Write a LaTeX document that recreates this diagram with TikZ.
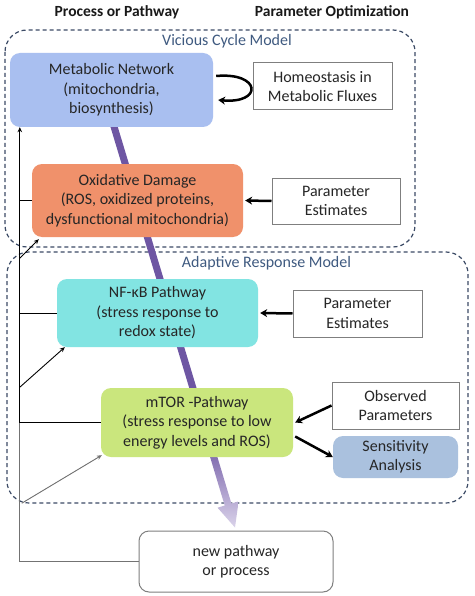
\documentclass[tikz,border=0pt]{standalone}
\usepackage{fontspec}
\setmainfont{Carlito}
\usetikzlibrary{arrows.meta,calc,backgrounds}
\definecolor{dashc}{HTML}{3C4B66}
\definecolor{titlec}{HTML}{3F5A80}
\definecolor{metc}{HTML}{A9BFF0}
\definecolor{oxc}{HTML}{F0916B}
\definecolor{nfc}{HTML}{82E4E2}
\definecolor{mtorc}{HTML}{CAE67D}
\definecolor{sensc}{HTML}{AAC1DE}
\definecolor{boxline}{HTML}{7F7F7F}
\definecolor{arrp}{HTML}{6E56A3}
\definecolor{arrl}{HTML}{DAD3EA}
\definecolor{txt}{HTML}{262626}
\pgfdeclareverticalshading{purplefade}{100bp}{color(0bp)=(arrl); color(25bp)=(arrl); color(36bp)=(arrp); color(100bp)=(arrp)}
\begin{document}
\begin{tikzpicture}[x=1pt,y=-1pt,
  every node/.style={font=\fontsize{16}{19.5}\selectfont, text=txt, align=center, inner sep=0pt},
  procbox/.style={rounded corners=10pt},
  parbox/.style={draw=boxline, line width=1pt, fill=white},
  dashbox/.style={draw=dashc, line width=1.2pt, dash pattern=on 4pt off 3pt, rounded corners=22pt},
  title/.style={text=titlec},
  header/.style={font=\bfseries\fontsize{15.5}{19}\selectfont, text=black!90},
  thickarr/.style={line width=2.5pt, -{Stealth[length=7pt,width=8pt]}},
  thinarr/.style={line width=0.9pt, -{Stealth[length=5pt,width=4.5pt]}},
  thinline/.style={line width=0.9pt}
]
\useasboundingbox (0,0) rectangle (474,596);

% headers
\node[header] (h1) at (117,12) {Process or Pathway};
\node[header] (h2) at (332,12) {Parameter Optimization};

% titles
\node[title] (vt) at (227,41) {Vicious Cycle Model};
\node[title] (at) at (266.5,263) {Adaptive Response Model};

% process boxes
\node[procbox, fill=metc, minimum width=203pt, minimum height=74pt] (met) at (111.5,90) {Metabolic Network\\(mitochondria,\\biosynthesis)};
\node[procbox, fill=oxc, minimum width=211pt, minimum height=73pt] (ox) at (137.5,200.5) {Oxidative Damage\\(ROS, oxidized proteins,\\dysfunctional mitochondria)};
\node[procbox, fill=nfc, minimum width=201pt, minimum height=68pt] (nf) at (157.5,313) {NF-κB Pathway\\(stress response to\\redox state)};
\node[procbox, fill=mtorc, minimum width=192pt, minimum height=69pt] (mtor) at (197,422.5) {mTOR -Pathway\\(stress response to low\\energy levels and ROS)};
\node[procbox, draw=boxline, line width=1pt, fill=white, minimum width=194pt, minimum height=61pt] (np) at (236,561.5) {new pathway\\or process};

% parameter boxes
\node[parbox, minimum width=139pt, minimum height=47pt] (hom) at (322.5,86.5) {Homeostasis in\\Metabolic Fluxes};
\node[parbox, minimum width=128pt, minimum height=46pt] (pe1) at (336,201) {Parameter\\Estimates};
\node[parbox, minimum width=129pt, minimum height=47pt] (pe2) at (357.5,313.5) {Parameter\\Estimates};
\node[parbox, minimum width=127pt, minimum height=47pt] (obs) at (395.5,405.5) {Observed\\Parameters};
\node[procbox, fill=sensc, minimum width=125pt, minimum height=42pt] (sens) at (395.5,457) {Sensitivity\\Analysis};

% thick arrows
\coordinate (l1) at ($(met.east)+(3,-14)$);
\coordinate (l2) at ($(met.east)+(5,10)$);
\draw[thickarr] (l1) .. controls ($(l1)+(45,-4)$) and ($(l2)+(45,4)$) .. (l2);
\draw[thickarr] (pe1.west) -- ([xshift=2pt]ox.east);
\draw[thickarr] (pe2.west) -- ([xshift=2pt]nf.east);
\draw[thickarr] (obs.west) -- ([xshift=2pt]mtor.east);
\draw[thickarr] ([xshift=2pt,yshift=-14pt]mtor.east) -- (sens.west);

% left feedback lines
\coordinate (vtop) at ($(met.south west)+(10,0)$);
\coordinate (vbot) at (vtop |- np.west);
\coordinate (vm) at (vtop |- mtor.west);
\draw[thinline, draw=black!55] (np.west) -- (vbot) -- (vm);
\draw[thinarr] (vm) -- (vtop);
\draw[thinline] (vtop |- ox.west) -- (ox.west);
\draw[thinline] (vtop |- nf.west) -- (nf.west);
\draw[thinline] (vm) -- (mtor.west);
\coordinate (d1) at ($(vtop)+(0,131)$);
\coordinate (d2) at ($(vtop)+(0,260)$);
\coordinate (d3) at ($(vtop)+(2,376)$);
\draw[thinarr] (d1) -- ($(ox.south west)+(7,2)$);
\draw[thinarr] (d2) -- ($(nf.south west)+(8,0)$);
\draw[thinarr, draw=black!55, fill=black!55] (d3) -- ($(mtor.south west)+(1,-2)$);

\begin{pgfonlayer}{background}
\fill[white] (0,0) rectangle (474,596);
\draw[dashbox] (5,30) rectangle (415,247);
\draw[dashbox] (7,252) rectangle (468,503);
\coordinate (ps) at ($(met.south)+(1.5,-4)$);
\coordinate (pt) at ($(np.north)+(-1,-3)$);
\coordinate (pb) at ($(pt)!24pt!(ps)$);
\shade[shading=purplefade] ($(ps)!3.5pt!90:(pt)$) -- ($(pb)!3.5pt!-90:(ps)$) -- ($(pb)!11pt!-90:(ps)$) -- (pt) -- ($(pb)!11pt!90:(ps)$) -- ($(pb)!3.5pt!90:(ps)$) -- ($(ps)!3.5pt!-90:(pt)$) -- cycle;
\end{pgfonlayer}
\end{tikzpicture}
\end{document}
